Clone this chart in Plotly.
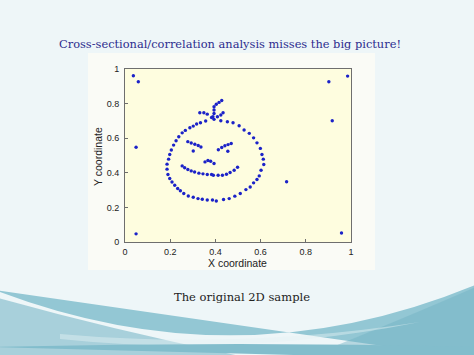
import plotly.graph_objects as go

# ---- data ----
outlier_x = [0.037, 0.059, 0.049, 0.049, 0.902, 0.985, 0.917, 0.715, 0.958]
outlier_y = [0.961, 0.926, 0.548, 0.047, 0.926, 0.959, 0.701, 0.348, 0.052]

outline_x = [0.334, 0.317, 0.302, 0.287, 0.267, 0.253, 0.238, 0.226, 0.215, 0.205,
             0.198, 0.193, 0.186, 0.186, 0.190, 0.198, 0.208, 0.220, 0.233, 0.245,
             0.260, 0.280, 0.302, 0.323, 0.342, 0.364, 0.387, 0.404, 0.436, 0.461,
             0.486, 0.510, 0.535, 0.554, 0.569, 0.584, 0.594, 0.602, 0.614, 0.612,
             0.606, 0.599, 0.584, 0.569, 0.550, 0.527, 0.505, 0.478, 0.453, 0.424,
             0.357]
outline_y = [0.689, 0.682, 0.670, 0.660, 0.645, 0.631, 0.608, 0.585, 0.560, 0.532,
             0.506, 0.479, 0.450, 0.421, 0.390, 0.367, 0.347, 0.328, 0.309, 0.296,
             0.280, 0.266, 0.259, 0.251, 0.247, 0.243, 0.243, 0.237, 0.246, 0.251,
             0.265, 0.280, 0.303, 0.318, 0.342, 0.361, 0.382, 0.415, 0.448, 0.479,
             0.506, 0.541, 0.573, 0.602, 0.628, 0.647, 0.672, 0.689, 0.695, 0.701,
             0.699]

tuft_x = [0.331, 0.349, 0.364, 0.383, 0.389, 0.394, 0.409, 0.424, 0.434, 0.394,
          0.394, 0.394, 0.404, 0.416, 0.428]
tuft_y = [0.747, 0.747, 0.739, 0.720, 0.724, 0.709, 0.724, 0.734, 0.747, 0.743,
          0.763, 0.782, 0.796, 0.807, 0.818]

left_brow_x = [0.278, 0.293, 0.309, 0.324, 0.336, 0.302]
left_brow_y = [0.580, 0.572, 0.565, 0.558, 0.549, 0.526]
right_brow_x = [0.413, 0.428, 0.442, 0.456, 0.470, 0.455]
right_brow_y = [0.533, 0.546, 0.556, 0.563, 0.569, 0.525]

nose_x = [0.354, 0.367, 0.379, 0.394]
nose_y = [0.463, 0.471, 0.467, 0.454]

mouth_x = [0.253, 0.264, 0.278, 0.293, 0.308, 0.327, 0.345, 0.364, 0.383, 0.391,
           0.412, 0.431, 0.449, 0.465, 0.483, 0.498]
mouth_y = [0.440, 0.429, 0.419, 0.411, 0.405, 0.398, 0.394, 0.390, 0.390, 0.386,
           0.386, 0.386, 0.392, 0.402, 0.415, 0.432]

tick_vals = [0, 0.2, 0.4, 0.6, 0.8, 1]
tick_text = ["0", "0.2", "0.4", "0.6", "0.8", "1"]

title_text = "Cross-sectional/correlation analysis misses the big picture!"
caption_text = "The original 2D sample"
x_label = "X coordinate"
y_label = "Y coordinate"

# ---- layout geometry (pixels) ----
W, H = 474, 355
L, R, T, B = 125, 351, 69, 242


def px(x):
    return (x - L) / (R - L)


def py(y):
    return (B - y) / (B - T)


xs = outlier_x + outline_x + tuft_x + left_brow_x + right_brow_x + nose_x + mouth_x
ys = outlier_y + outline_y + tuft_y + left_brow_y + right_brow_y + nose_y + mouth_y

fig = go.Figure()
fig.add_trace(go.Scatter(
    x=xs, y=ys, mode="markers",
    marker=dict(color="#1b22c8", size=3.4, line=dict(width=0)),
    hoverinfo="skip", showlegend=False,
))


def path(points, close=True):
    s = ""
    for cmd, pts in points:
        s += cmd + " " + " ".join(f"{px(a):.4f},{py(b):.4f}" for a, b in pts) + " "
    if close:
        s += "Z"
    return s


shapes = []
# bottom teal waves
shapes.append(dict(type="path", xref="paper", yref="paper", layer="below",
                   path=path([("M", [(-5, 290)]), ("Q", [(240, 384), (480, 283)]),
                              ("L", [(480, 360), (-5, 360)])]),
                   fillcolor="#93c7d4", line=dict(width=0)))
shapes.append(dict(type="path", xref="paper", yref="paper", layer="below",
                   path=path([("M", [(-5, 297)]), ("Q", [(120, 332), (260, 360)]),
                              ("L", [(-5, 360)])]),
                   fillcolor="#6fb0c3", line=dict(width=0), opacity=0.55))
shapes.append(dict(type="path", xref="paper", yref="paper", layer="below",
                   path=path([("M", [(480, 285)]), ("Q", [(400, 320), (300, 360)]),
                              ("L", [(480, 360)])]),
                   fillcolor="#72b2c4", line=dict(width=0), opacity=0.45))
shapes.append(dict(type="path", xref="paper", yref="paper", layer="below",
                   path=path([("M", [(60, 334)]), ("Q", [(240, 350), (420, 322)]),
                              ("Q", [(240, 358), (60, 339)])]),
                   fillcolor="#e4f2f5", line=dict(width=0), opacity=0.45))
shapes.append(dict(type="path", xref="paper", yref="paper", layer="below",
                   path=path([("M", [(-5, 347)]), ("Q", [(240, 341), (480, 347)]),
                              ("L", [(480, 360), (-5, 360)])]),
                   fillcolor="#82bdcc", line=dict(width=0)))
# MATLAB figure window area
shapes.append(dict(type="rect", xref="paper", yref="paper", layer="below",
                   x0=px(88), x1=px(375), y0=py(270), y1=py(53),
                   fillcolor="#fafbf6", line=dict(width=0)))
# axes background
shapes.append(dict(type="rect", xref="paper", yref="paper", layer="below",
                   x0=0, x1=1, y0=0, y1=1,
                   fillcolor="#fefddf", line=dict(width=0)))

axis_common = dict(range=[0, 1], tickvals=tick_vals, ticktext=tick_text,
                   showgrid=False, zeroline=False, showline=True, mirror=True,
                   linecolor="#6e6e6e", linewidth=1, ticks="inside", ticklen=3,
                   tickcolor="#6e6e6e",
                   tickfont=dict(family="Liberation Sans, Arial", size=9,
                                 color="#222222"))

fig.update_layout(
    width=W, height=H,
    margin=dict(l=L, r=W - R, t=T, b=H - B, autoexpand=False),
    paper_bgcolor="#eef6f8",
    plot_bgcolor="#fefddf",
    showlegend=False,
    shapes=shapes,
    xaxis=dict(axis_common, ticklabelstandoff=1),
    yaxis=dict(axis_common, ticklabelstandoff=3),
    annotations=[
        dict(text=title_text, xref="paper", yref="paper", x=px(230), y=py(44),
             showarrow=False, xanchor="center", yanchor="middle",
             font=dict(family="DejaVu Serif", size=11.4, color="#2c2c8e")),
        dict(text=caption_text, xref="paper", yref="paper", x=px(242), y=py(297),
             showarrow=False, xanchor="center", yanchor="middle",
             font=dict(family="DejaVu Serif", size=11.5, color="#222222")),
        dict(text=x_label, xref="paper", yref="paper", x=px(237), y=py(263),
             showarrow=False, xanchor="center", yanchor="middle",
             font=dict(family="Liberation Sans, Arial", size=10.5, color="#222222")),
        dict(text=y_label, xref="paper", yref="paper", x=px(98), y=py(157),
             showarrow=False, xanchor="center", yanchor="middle", textangle=-90,
             font=dict(family="Liberation Sans, Arial", size=10.5, color="#222222")),
    ],
)

fig.write_html("out.html", post_script="document.body.style.margin='0';",
               config={"displayModeBar": False})
